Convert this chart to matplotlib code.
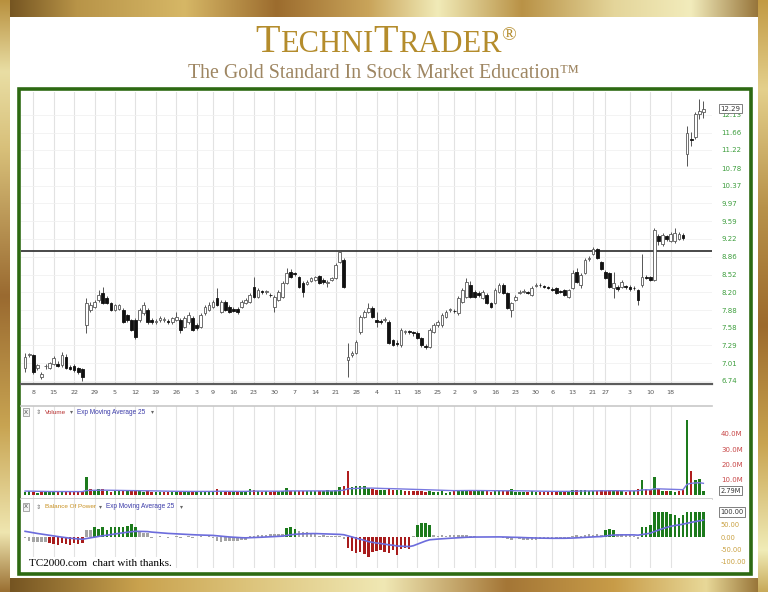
import numpy as np
import matplotlib
matplotlib.use("Agg")
import matplotlib.pyplot as plt
from matplotlib.patches import Rectangle

# ---------------- data ----------------
opens = [6.94, 7.14, 7.14, 6.93, 6.80, 6.96, 6.94, 7.00, 7.00, 6.98,
         7.11, 6.95, 6.97, 6.93, 6.92, 7.63, 7.89, 7.94, 8.06, 8.19,
         8.10, 8.01, 7.89, 7.90, 7.89, 7.80, 7.71, 7.71, 7.71, 7.83,
         7.89, 7.71, 7.68, 7.71, 7.71, 7.69, 7.68, 7.71, 7.71, 7.60,
         7.68, 7.75, 7.63, 7.60, 7.83, 7.89, 7.94, 8.10, 7.85, 8.03,
         7.94, 7.90, 7.90, 7.94, 8.01, 8.03, 8.30, 8.12, 8.21, 8.21,
         8.15, 7.94, 8.06, 8.12, 8.37, 8.58, 8.55, 8.48, 8.37, 8.35,
         8.40, 8.43, 8.50, 8.43, 8.36, 8.43, 8.46, 8.77, 8.81, 7.06,
         7.14, 7.17, 7.51, 7.77, 7.85, 7.92, 7.71, 7.69, 7.71, 7.68,
         7.38, 7.33, 7.30, 7.51, 7.52, 7.50, 7.50, 7.41, 7.28, 7.27,
         7.51, 7.63, 7.63, 7.77, 7.88, 7.87, 7.83, 8.03, 8.12, 8.33,
         8.21, 8.19, 8.10, 8.15, 8.01, 8.01, 8.21, 8.33, 8.19, 7.89,
         8.06, 8.18, 8.21, 8.20, 8.15, 8.31, 8.33, 8.31, 8.29, 8.26,
         8.28, 8.21, 8.24, 8.12, 8.28, 8.58, 8.33, 8.56, 8.83, 8.91,
         9.01, 8.77, 8.58, 8.56, 8.28, 8.30, 8.30, 8.30, 8.30, 8.28,
         8.24, 8.33, 8.48, 8.48, 8.43, 9.27, 9.11, 9.27, 9.17, 9.17,
         9.21, 9.31, 11.11, 11.49, 11.54, 12.14, 12.20]
highs = [7.17, 7.17, 7.16, 7.00, 6.87, 6.99, 7.03, 7.12, 7.04, 7.19,
         7.16, 6.98, 7.00, 6.95, 6.94, 8.10, 8.02, 8.06, 8.24, 8.30,
         8.13, 8.03, 7.99, 7.99, 7.92, 7.82, 7.73, 7.74, 7.92, 8.03,
         7.92, 7.74, 7.73, 7.78, 7.76, 7.72, 7.77, 7.85, 7.74, 7.78,
         7.84, 7.78, 7.66, 7.83, 7.97, 8.03, 8.06, 8.27, 8.06, 8.06,
         7.97, 7.94, 7.93, 8.05, 8.09, 8.18, 8.48, 8.27, 8.24, 8.24,
         8.18, 8.14, 8.24, 8.40, 8.65, 8.62, 8.58, 8.50, 8.40, 8.42,
         8.48, 8.50, 8.52, 8.45, 8.42, 8.48, 8.74, 8.99, 8.84, 7.33,
         7.20, 7.38, 7.80, 7.88, 8.01, 7.95, 7.85, 7.72, 7.76, 7.71,
         7.40, 7.37, 7.57, 7.55, 7.55, 7.53, 7.53, 7.43, 7.31, 7.57,
         7.66, 7.71, 7.83, 7.88, 7.92, 7.90, 8.13, 8.27, 8.45, 8.40,
         8.24, 8.22, 8.24, 8.18, 8.03, 8.27, 8.37, 8.36, 8.21, 8.03,
         8.15, 8.23, 8.25, 8.22, 8.31, 8.36, 8.36, 8.33, 8.31, 8.29,
         8.30, 8.24, 8.26, 8.26, 8.60, 8.65, 8.55, 8.84, 8.88, 9.05,
         9.03, 8.79, 8.60, 8.58, 8.58, 8.33, 8.42, 8.33, 8.32, 8.31,
         8.26, 8.91, 8.51, 8.50, 9.45, 9.33, 9.35, 9.30, 9.37, 9.45,
         9.37, 9.35, 11.82, 11.68, 12.20, 12.55, 12.50]
lows = [6.88, 7.10, 6.85, 6.90, 6.77, 6.92, 6.92, 6.98, 6.95, 6.95,
        6.92, 6.90, 6.87, 6.84, 6.74, 7.50, 7.85, 7.91, 8.03, 7.99,
        7.98, 7.87, 7.86, 7.88, 7.66, 7.68, 7.52, 7.40, 7.68, 7.80,
        7.65, 7.64, 7.65, 7.68, 7.67, 7.64, 7.65, 7.69, 7.50, 7.57,
        7.65, 7.52, 7.55, 7.58, 7.80, 7.86, 7.91, 7.95, 7.83, 7.87,
        7.83, 7.84, 7.82, 7.91, 7.99, 8.00, 8.10, 8.10, 8.17, 8.16,
        8.11, 7.85, 8.04, 8.10, 8.35, 8.46, 8.50, 8.28, 8.12, 8.32,
        8.38, 8.41, 8.35, 8.35, 8.30, 8.41, 8.44, 8.75, 8.28, 6.80,
        7.10, 7.15, 7.48, 7.75, 7.83, 7.75, 7.60, 7.65, 7.68, 7.31,
        7.28, 7.28, 7.27, 7.48, 7.48, 7.45, 7.39, 7.27, 7.24, 7.25,
        7.49, 7.60, 7.60, 7.75, 7.85, 7.83, 7.80, 8.01, 8.10, 8.09,
        8.10, 8.12, 8.07, 7.98, 7.91, 7.99, 8.19, 8.16, 7.90, 7.77,
        8.04, 8.16, 8.19, 8.16, 8.13, 8.29, 8.29, 8.27, 8.25, 8.22,
        8.17, 8.18, 8.13, 8.10, 8.26, 8.37, 8.28, 8.54, 8.79, 8.89,
        8.83, 8.60, 8.44, 8.27, 8.10, 8.22, 8.28, 8.26, 8.22, 8.24,
        7.97, 8.30, 8.44, 8.41, 8.41, 9.10, 9.08, 9.17, 9.15, 9.13,
        9.19, 9.20, 10.82, 11.33, 11.50, 12.00, 12.05]
closes = [7.11, 7.15, 6.87, 6.98, 6.84, 6.97, 7.01, 7.09, 6.97, 7.14,
          6.94, 6.92, 6.90, 6.87, 6.80, 8.01, 7.97, 8.03, 8.15, 8.01,
          8.01, 7.89, 7.97, 7.97, 7.68, 7.71, 7.54, 7.43, 7.89, 7.97,
          7.68, 7.67, 7.69, 7.75, 7.72, 7.68, 7.75, 7.77, 7.54, 7.75,
          7.80, 7.54, 7.58, 7.80, 7.94, 7.97, 8.03, 7.97, 8.03, 7.89,
          7.85, 7.87, 7.84, 8.03, 8.06, 8.15, 8.12, 8.24, 8.20, 8.21,
          8.14, 8.12, 8.21, 8.37, 8.56, 8.48, 8.53, 8.30, 8.21, 8.39,
          8.45, 8.48, 8.37, 8.38, 8.39, 8.46, 8.71, 8.95, 8.30, 7.11,
          7.17, 7.35, 7.77, 7.85, 7.92, 7.77, 7.68, 7.68, 7.72, 7.33,
          7.30, 7.31, 7.54, 7.52, 7.51, 7.49, 7.41, 7.30, 7.27, 7.54,
          7.63, 7.68, 7.80, 7.85, 7.89, 7.86, 8.10, 8.24, 8.39, 8.12,
          8.12, 8.15, 8.21, 8.01, 7.94, 8.24, 8.33, 8.19, 7.92, 8.01,
          8.12, 8.20, 8.22, 8.19, 8.28, 8.33, 8.32, 8.30, 8.28, 8.24,
          8.19, 8.20, 8.15, 8.24, 8.56, 8.39, 8.52, 8.81, 8.85, 9.01,
          8.85, 8.62, 8.46, 8.30, 8.37, 8.26, 8.39, 8.29, 8.25, 8.27,
          8.06, 8.48, 8.46, 8.43, 9.41, 9.17, 9.31, 9.21, 9.33, 9.35,
          9.33, 9.23, 11.66, 11.47, 12.14, 12.22, 12.29]
volume_m = [2.0, 2.4, 1.8, 1.6, 1.9, 1.7, 1.8, 2.2, 1.9, 2.3,
            2.1, 2.0, 2.2, 2.1, 2.4, 11.5, 4.0, 3.6, 4.0, 3.8,
            2.5, 2.2, 2.6, 2.4, 2.8, 2.4, 2.6, 2.9, 2.3, 2.2,
            2.4, 2.0, 1.9, 2.2, 2.1, 1.8, 1.7, 2.0, 2.3, 1.9,
            2.1, 2.4, 2.0, 2.2, 2.3, 2.4, 2.6, 3.8, 2.5, 2.3,
            2.2, 2.0, 1.9, 2.4, 2.6, 3.8, 3.6, 2.6, 2.2, 2.3,
            2.2, 2.4, 2.5, 2.8, 4.6, 2.8, 2.5, 2.6, 2.9, 2.4,
            2.5, 2.6, 2.8, 2.4, 3.0, 2.6, 3.4, 5.0, 6.0, 15.5,
            5.5, 5.8, 6.0, 5.6, 4.8, 4.0, 3.2, 3.0, 3.5, 4.0,
            3.2, 3.0, 3.4, 2.6, 2.4, 2.6, 2.8, 2.6, 2.2, 2.4,
            2.0, 1.8, 2.3, 1.6, 2.0, 2.4, 3.4, 3.2, 3.5, 2.8,
            3.0, 2.4, 2.6, 2.4, 2.2, 2.6, 2.8, 2.3, 2.6, 3.8,
            2.2, 2.0, 1.8, 2.1, 2.4, 2.0, 2.2, 2.1, 1.9, 2.0,
            2.3, 2.1, 2.4, 2.6, 3.6, 3.2, 3.4, 3.0, 2.6, 2.8,
            2.9, 3.4, 2.8, 3.2, 3.4, 2.4, 2.6, 2.2, 2.3, 2.6,
            4.0, 10.0, 4.2, 3.0, 12.0, 4.0, 2.8, 2.4, 2.6, 2.2,
            2.4, 3.0, 49.0, 16.0, 10.0, 10.5, 2.79]
bop = [-5, -15, -18, -18, -18, -18,
       -25, -28, -30, -25, -28, -30, -25, -28, -22,
       28, 30,
       39, 31, 40, 30, 42, 42, 42, 42, 44, 52, 40,
       20, 18, 15,
       -5, 2, 3, 1, -3, 2, 3, -4, 2, 3, -2, 0, 3, 2, 4, -5,
       -15, -18, -17, -15, -14, -16, -12, -10,
       4, 5, 7, 8, 10, 12, 12, 14, 12,
       38, 42, 34,
       25, 22, 20, 18, 15,
       6, 8, 5, 6, 4, 3,
       -8,
       -45, -55, -62, -58, -68, -79, -60, -55, -50, -58, -65, -52, -72, -48, -45, -48,
       5,
       48, 57, 55, 48,
       10, 6, 8, 6, 8, 9, 10, 10, 8, 6, 4,
       2, 1, 2, 0, 1, 2, -2,
       -6, -10, -3,
       -8, -12, -10, -10, -10, -8, -9, -8, -7, -6, -5, -3, -2,
       4, 8, 6, 10, 12, 10, 12, 8,
       30, 32, 28,
       14, 12, 10, 8, 6,
       -6,
       40, 42, 50,
       100, 100, 100, 100, 92, 88, 75, 88, 100, 100, 100, 100, 100]
bop_kind = ('n' * 6 + 'r' * 9 + 'n' * 2 + 'g' * 11 + 'n' * 36 + 'g' * 3 +
            'n' * 12 + 'r' * 16 + 'n' + 'g' * 4 + 'n' * 42 + 'g' * 3 +
            'n' * 6 + 'g' * 16)
resistance = 8.97
price_ticks = [6.74, 7.01, 7.29, 7.58, 7.88, 8.20, 8.52, 8.86, 9.22, 9.59,
               9.97, 10.37, 10.78, 11.22, 11.66, 12.13]
vol_ticks = [10, 20, 30, 40]
bop_ticks = [50, 0, -50, -100]
tick_idx = [2, 7, 12, 17, 22, 27, 32, 37, 42, 46, 51, 56, 61, 66, 71, 76, 81,
            86, 91, 96, 101, 105, 110, 115, 120, 125, 129, 134, 139, 142, 148,
            153, 158]
tick_labels = ['8', '15', '22', '29', '5', '12', '19', '26', '3', '9', '16',
               '23', '30', '7', '14', '21', '28', '4', '11', '18', '25', '2',
               '9', '16', '23', '30', '6', '13', '21', '27', '3', '10', '18']

# ---------------- figure ----------------
W, H = 768, 592
fig = plt.figure(figsize=(W / 100, H / 100), dpi=100)


def hex2rgb(hx):
    return np.array([int(hx[i:i + 2], 16) / 255 for i in (1, 3, 5)])


def gradient(stops, count):
    pos = np.array([s[0] for s in stops])
    cols = np.array([hex2rgb(s[1]) for s in stops])
    t = np.linspace(0, 1, count)
    return np.stack([np.interp(t, pos, cols[:, k]) for k in range(3)], axis=1)


top_stops = [(0, '#6b4c1c'), (0.1, '#b89448'), (0.24, '#d6b766'), (0.36, '#9c6c2e'),
             (0.48, '#c9a45a'), (0.57, '#f1ebb8'), (0.68, '#b99246'), (0.8, '#e4d59a'),
             (0.9, '#f2ecbc'), (1.0, '#8a6428')]
bot_stops = [(0, '#6e4e1e'), (0.18, '#c9a24e'), (0.32, '#dcc37a'), (0.5, '#f0e8b4'),
             (0.66, '#a47636'), (0.8, '#c89c48'), (0.92, '#e8d898'), (1.0, '#8a6428')]
left_stops = [(0, '#b8903e'), (0.12, '#e9dea4'), (0.25, '#d8c07a'), (0.5, '#9a6a30'),
              (0.72, '#c8a452'), (0.9, '#efe6b0'), (1.0, '#9a7032')]
right_stops = [(0, '#c29a44'), (0.15, '#e4d08c'), (0.35, '#b8924a'), (0.55, '#9c6a2c'),
               (0.75, '#c9a450'), (0.93, '#f0ecb8'), (1.0, '#c8aa5a')]

img = np.ones((H, W, 3))
img[:17, :, :] = gradient(top_stops, W)[None, :, :]
img[578:, :, :] = gradient(bot_stops, W)[None, :, :]
img[:, :10, :] = gradient(left_stops, H)[:, None, :]
img[:, 758:, :] = gradient(right_stops, H)[:, None, :]

ax_bg = fig.add_axes([0, 0, 1, 1])
ax_bg.imshow(img, extent=(0, W, H, 0), aspect='auto', interpolation='bilinear')
ax_bg.set_xlim(0, W)
ax_bg.set_ylim(H, 0)
ax_bg.axis('off')
ax_bg.add_patch(Rectangle((19, 89), 732, 485, fill=False, ec='#2d6912', lw=2.6))


def px_axes(x0, y0, x1, y1):
    return fig.add_axes([x0 / W, 1 - y1 / H, (x1 - x0) / W, (y1 - y0) / H])


o = np.array(opens); h = np.array(highs); l = np.array(lows); c = np.array(closes)
v = np.array(volume_m); b = np.array(bop, dtype=float)
n = len(c)
idx = np.arange(n)
XL, XR = -1.0, 168.1


def ema(vals, span, seed):
    a = 2.0 / (span + 1)
    e = seed
    out = []
    for val in vals:
        e = e + a * (val - e)
        out.append(e)
    return np.array(out)


def style_common(ax):
    ax.set_xlim(XL, XR)
    ax.set_xticks(tick_idx)
    ax.xaxis.grid(True, color='#e2e2e2', lw=0.8)
    ax.set_axisbelow(True)
    ax.yaxis.tick_right()
    ax.set_facecolor('white')
    for s in ['left', 'right', 'top', 'bottom']:
        ax.spines[s].set_visible(False)


LBL = 5.0

# ----- price panel -----
ax_p = px_axes(21, 92, 712, 384)
style_common(ax_p)
ax_p.set_yscale('log')
ax_p.set_ylim(6.695, 12.75)
ax_p.set_yticks(price_ticks)
ax_p.set_yticks([], minor=True)
ax_p.set_yticklabels(['%.2f' % t for t in price_ticks])
ax_p.yaxis.grid(True, color='#f1f1f1', lw=0.6)
ax_p.tick_params(axis='y', length=0, pad=6.5, labelsize=LBL, labelcolor='#3e9e3e')
ax_p.set_xticklabels(tick_labels)
ax_p.tick_params(axis='x', length=0, pad=4.5, labelsize=4.6, labelcolor='#555555')
ax_p.spines['bottom'].set_visible(True)
ax_p.spines['bottom'].set_color('#5c5c5c')
ax_p.spines['bottom'].set_linewidth(1.6)

ax_p.axhline(resistance, color='#3a3a3a', lw=1.3, zorder=1)
ax_p.vlines(idx, l, h, color='#555555', lw=0.7, zorder=2)
up = c >= o
bottom = np.minimum(o, c)
height = np.maximum(np.abs(c - o), 0.012)
ax_p.bar(idx[up], height[up], bottom=bottom[up], width=0.66, color='white',
         edgecolor='#5a5a5a', linewidth=0.6, zorder=3)
ax_p.bar(idx[~up], height[~up], bottom=bottom[~up], width=0.66, color='#111111',
         edgecolor='#111111', linewidth=0.6, zorder=3)
ax_p.annotate('%.2f' % c[-1], xy=(1, c[-1]), xycoords=('axes fraction', 'data'),
              xytext=(6.0, 0), textcoords='offset points', ha='left', va='center',
              fontsize=LBL, color='#333333',
              bbox=dict(boxstyle='square,pad=0.25', fc='white', ec='#6a6a6a', lw=0.6))

# ----- volume panel -----
ax_v = px_axes(21, 406, 712, 499)
style_common(ax_v)
ax_v.set_ylim(-2.61, 58.2)
vcol = ['#1d7a1d' if (i == 0 or c[i] >= c[i - 1]) else '#b01e1e' for i in range(n)]
ax_v.bar(idx, v, width=0.62, color=vcol, zorder=2)
ax_v.plot(idx, ema(v, 25, 2.6), color='#7878e0', lw=1.0, zorder=3)
ax_v.set_yticks(vol_ticks)
ax_v.set_yticklabels(['%.1fM' % t for t in vol_ticks])
ax_v.tick_params(axis='y', length=0, pad=6.5, labelsize=LBL, labelcolor='#c84848')
ax_v.tick_params(axis='x', length=0, labelbottom=False)
for s in ['top', 'bottom']:
    ax_v.spines[s].set_visible(True)
    ax_v.spines[s].set_color('#c8c8c8')
    ax_v.spines[s].set_linewidth(1.2)
ax_v.annotate('%.2fM' % v[-1], xy=(1, v[-1]), xycoords=('axes fraction', 'data'),
              xytext=(6.0, 0), textcoords='offset points', ha='left', va='center',
              fontsize=4.8, color='#333333',
              bbox=dict(boxstyle='square,pad=0.25', fc='white', ec='#6a6a6a', lw=0.6))

# ----- balance of power panel -----
ax_b = px_axes(21, 499, 712, 568)
style_common(ax_b)
ax_b.set_ylim(-124, 152)
kc = {'g': '#1c7a1c', 'r': '#a81c1c', 'n': '#a4a4a4'}
ax_b.bar(idx, b, width=0.62, color=[kc[k] for k in bop_kind], zorder=2)
ax_b.plot(idx, ema(b, 25, 25), color='#6c6cdc', lw=1.2, zorder=3)
ax_b.set_yticks(bop_ticks)
ax_b.set_yticklabels(['%.2f' % t for t in bop_ticks])
ax_b.tick_params(axis='y', length=0, pad=6.0, labelsize=4.8, labelcolor='#c9a040')
ax_b.tick_params(axis='x', length=0, labelbottom=False)
ax_b.annotate('%.2f' % b[-1], xy=(1, b[-1]), xycoords=('axes fraction', 'data'),
              xytext=(6.0, 0), textcoords='offset points', ha='left', va='center',
              fontsize=4.8, color='#333333',
              bbox=dict(boxstyle='square,pad=0.25', fc='white', ec='#6a6a6a', lw=0.6))


# ----- headers -----
def ftxt(x, y, s, **kw):
    return fig.text(x / W, 1 - y / H, s, **kw)


HF = 'Liberation Sans'
for yy, name, ncol, x_name, x_arr1, x_ema, x_arr2 in [
        (412, 'Volume', '#b83030', 45, 71, 77, 152),
        (507, 'Balance Of Power', '#c89020', 45, 100, 106, 181)]:
    ftxt(26, yy, 'X', fontsize=4.2, color='#444', ha='center', va='center',
         bbox=dict(boxstyle='square,pad=0.25', fc='#f2f2f2', ec='#888', lw=0.5))
    ftxt(38, yy, '⇕', fontsize=4.6, color='#777', ha='center', va='center')
    ftxt(x_name, yy, name, fontsize=4.6, family=HF, color=ncol, ha='left', va='center')
    ftxt(x_arr1, yy, '▾', fontsize=4.3, color='#666', ha='center', va='center')
    ftxt(x_ema, yy, 'Exp Moving Average 25', fontsize=4.7, family=HF, color='#3a3aa8',
         ha='left', va='center')
    ftxt(x_arr2, yy, '▾', fontsize=4.3, color='#666', ha='center', va='center')

ftxt(29, 563, 'TC2000.com  chart with thanks.', fontsize=8, family='Liberation Serif',
     color='black', ha='left', va='center',
     bbox=dict(boxstyle='square,pad=0.15', fc='white', ec='none'))

# ----- title -----
renderer = fig.canvas.get_renderer()
gold = '#b48c2c'
pieces = [('T', 29, 0), ('ECHNI', 22, 0), ('T', 29, 0), ('RADER', 22, 0), ('®', 14, 12)]
objs = []
total = 0
for s, size, dy in pieces:
    t = fig.text(0, 0, s, fontsize=size, family='Liberation Serif', color=gold,
                 ha='left', va='baseline')
    w = t.get_window_extent(renderer).width
    objs.append((t, dy, w))
    total += w
x = 386 - total / 2
for t, dy, w in objs:
    t.set_position((x / W, 1 - (52 - dy) / H))
    x += w

ftxt(384, 78, 'The Gold Standard In Stock Market Education™', fontsize=14.3,
     family='Liberation Serif', color='#9e8662', ha='center', va='baseline')

fig.savefig('out.png', dpi=100)
